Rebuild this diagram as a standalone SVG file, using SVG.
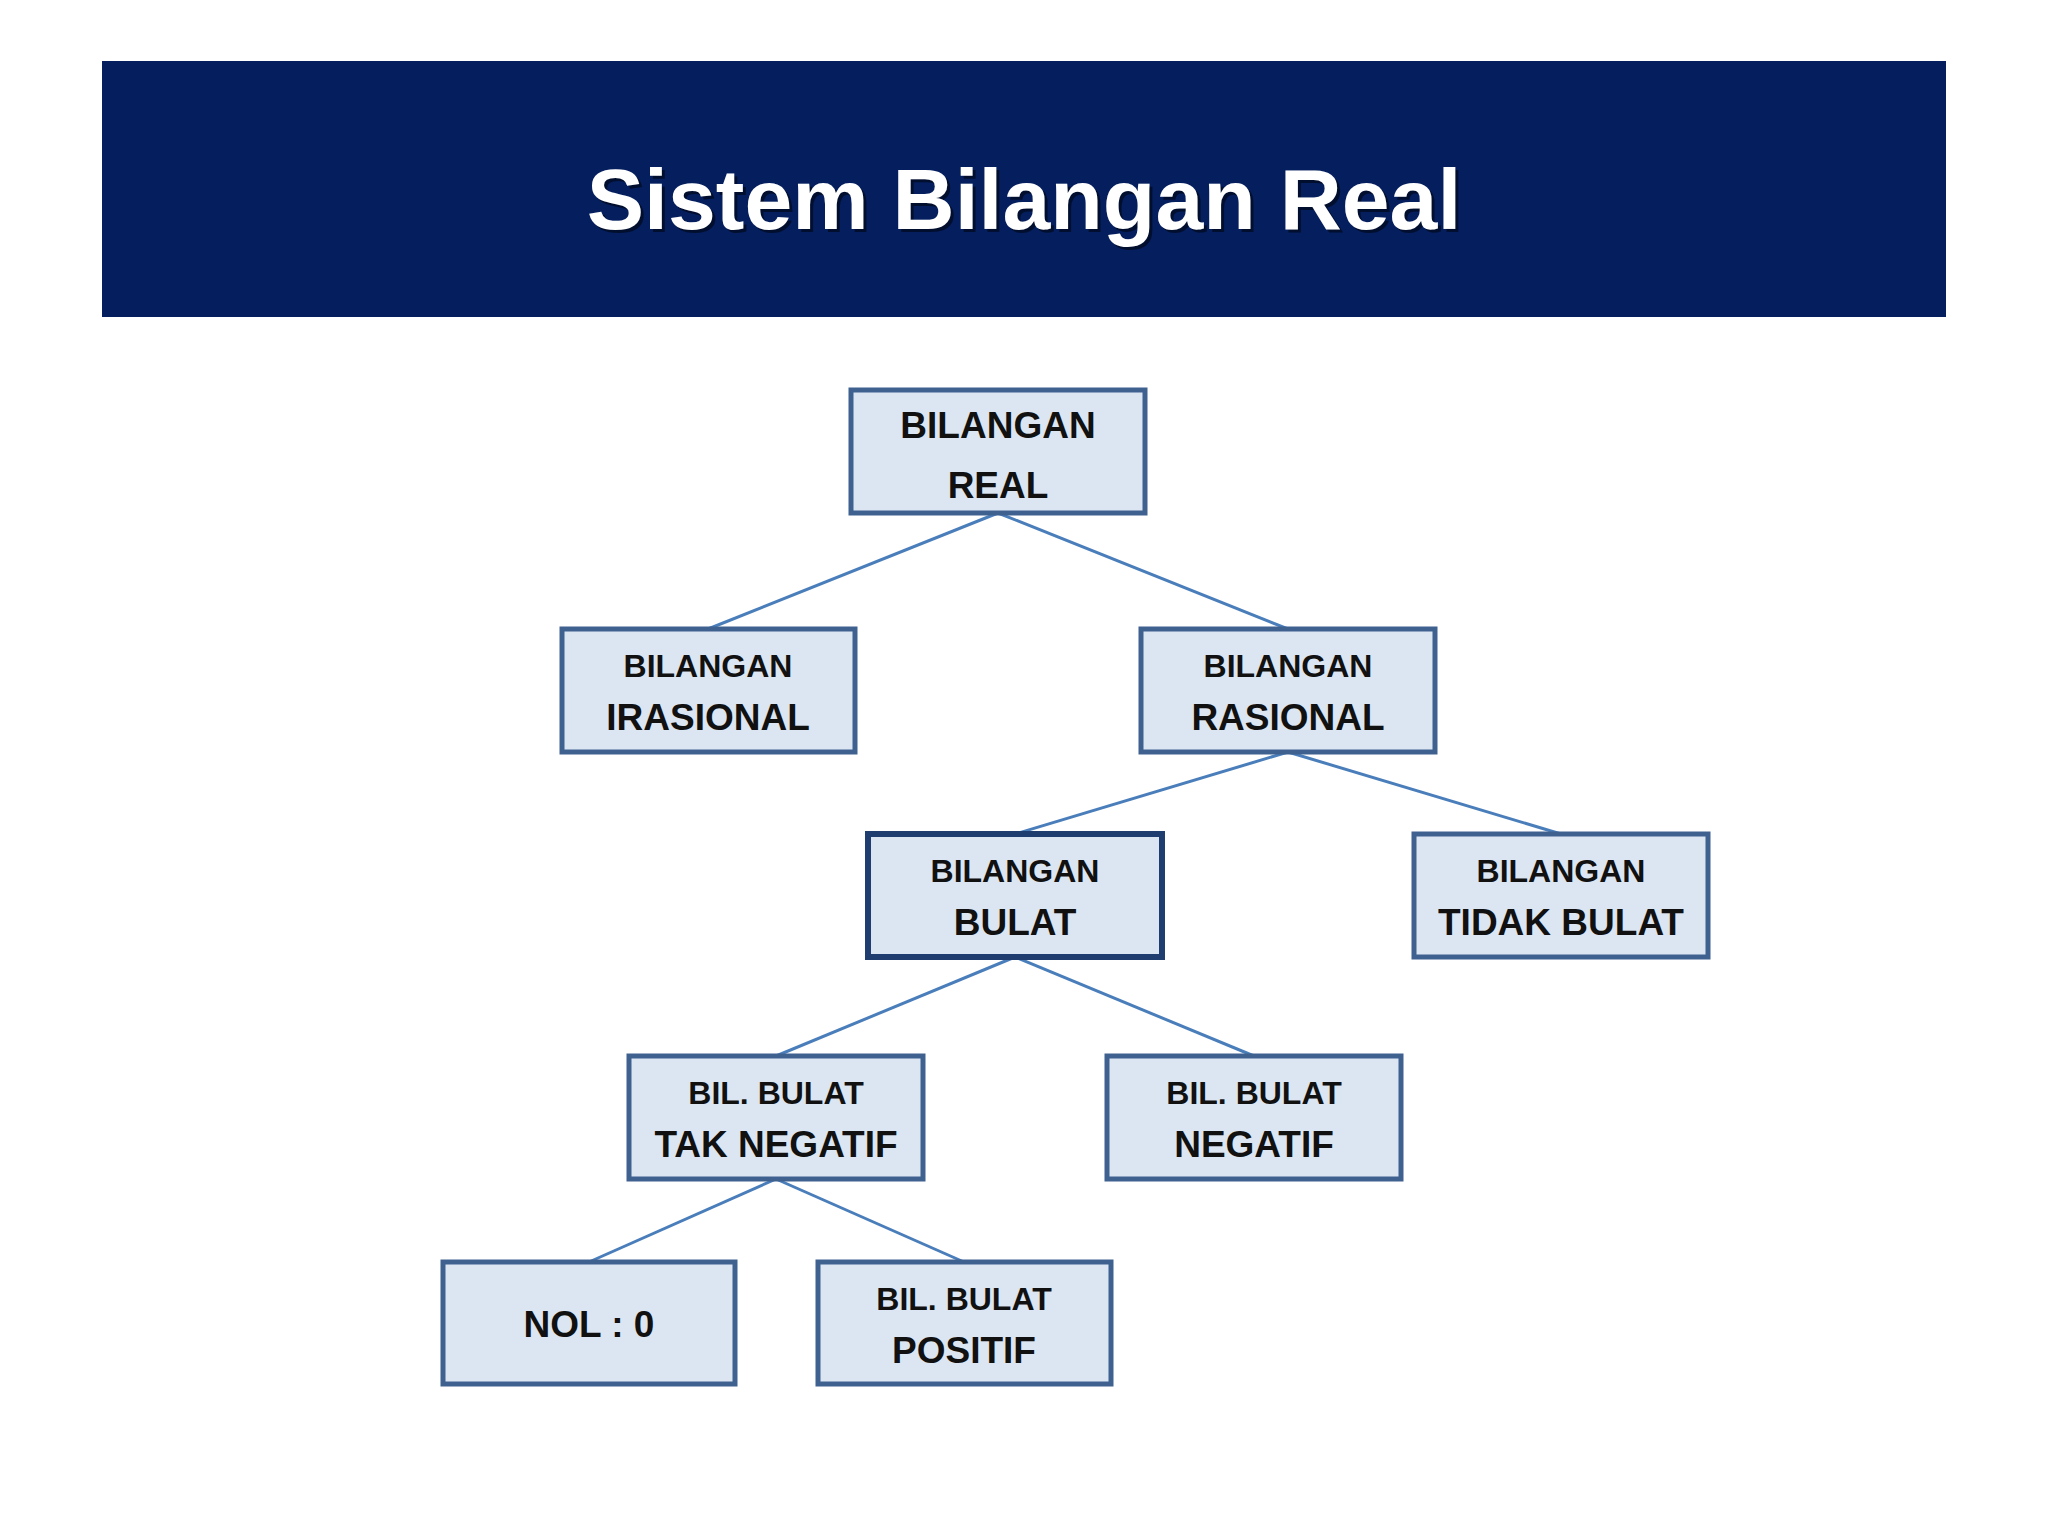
<svg xmlns="http://www.w3.org/2000/svg" width="2048" height="1536" viewBox="0 0 2048 1536">
<style>
.b{fill:#dce6f2;stroke:#3e6190;stroke-width:5}
.t{font-family:"Liberation Sans",Arial,sans-serif;font-weight:bold;fill:#111;text-anchor:middle}
.s{font-size:32px}.l{font-size:37px}
.c line{stroke:#4a7ebb;stroke-width:3}
</style>
<rect width="2048" height="1536" fill="#fff"/>
<rect x="102" y="61" width="1844" height="256" fill="#041e5e"/>
<text x="1027" y="232" class="t" font-size="86" fill="#000" opacity="0.5" style="fill:#000">Sistem Bilangan Real</text>
<text x="1024" y="229" class="t" font-size="86" style="fill:#fff">Sistem Bilangan Real</text>
<g class="c">
<line x1="998" y1="513" x2="708" y2="629"/><line x1="998" y1="513" x2="1288" y2="629"/>
<line x1="1288" y1="752" x2="1015" y2="834"/><line x1="1288" y1="752" x2="1561" y2="834"/>
<line x1="1015" y1="957" x2="776" y2="1056"/><line x1="1015" y1="957" x2="1254" y2="1056"/>
<line x1="776" y1="1179" x2="589" y2="1262"/><line x1="776" y1="1179" x2="964" y2="1262"/>
</g>
<g id="real"><rect class="b" x="851" y="390" width="294" height="123"/><text class="t l" x="998" y="438">BILANGAN</text><text class="t l" x="998" y="498">REAL</text></g>
<g id="irasional"><rect class="b" x="562" y="629" width="293" height="123"/><text class="t s" x="708" y="677">BILANGAN</text><text class="t l" x="708" y="730">IRASIONAL</text></g>
<g id="rasional"><rect class="b" x="1141" y="629" width="294" height="123"/><text class="t s" x="1288" y="677">BILANGAN</text><text class="t l" x="1288" y="730">RASIONAL</text></g>
<g id="bulat"><rect class="b" x="868" y="834" width="294" height="123" style="stroke:#1f3d6e;stroke-width:6"/><text class="t s" x="1015" y="882">BILANGAN</text><text class="t l" x="1015" y="935">BULAT</text></g>
<g id="tidakbulat"><rect class="b" x="1414" y="834" width="294" height="123"/><text class="t s" x="1561" y="882">BILANGAN</text><text class="t l" x="1561" y="935">TIDAK BULAT</text></g>
<g id="taknegatif"><rect class="b" x="629" y="1056" width="294" height="123"/><text class="t s" x="776" y="1104">BIL. BULAT</text><text class="t l" x="776" y="1157">TAK NEGATIF</text></g>
<g id="negatif"><rect class="b" x="1107" y="1056" width="294" height="123"/><text class="t s" x="1254" y="1104">BIL. BULAT</text><text class="t l" x="1254" y="1157">NEGATIF</text></g>
<g id="nol"><rect class="b" x="443" y="1262" width="292" height="122"/><text class="t l" x="589" y="1337">NOL : 0</text></g>
<g id="positif"><rect class="b" x="818" y="1262" width="293" height="122"/><text class="t s" x="964" y="1310">BIL. BULAT</text><text class="t l" x="964" y="1363">POSITIF</text></g>
</svg>
